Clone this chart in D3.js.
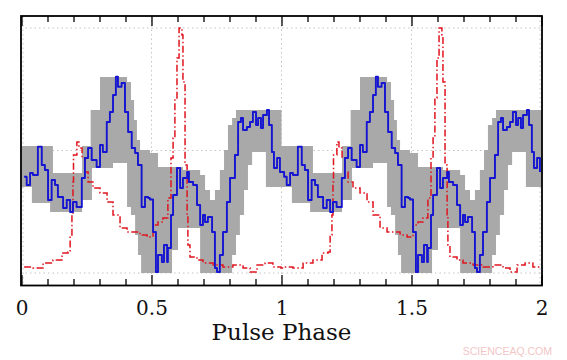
<!DOCTYPE html>
<html><head><meta charset="utf-8">
<script src="https://cdn.jsdelivr.net/npm/d3@7"></script>
<style>body{margin:0;background:#fff}</style>
</head><body><svg id="c" width="567" height="360"></svg>
<script>
// ---- data (one pulse cycle, phase 0..1; plotted twice as in the figure) ----
const xTickValues = [0, 0.5, 1, 1.5, 2];
const xTickLabels = ["0", "0.5", "1", "1.5", "2"];
const yGridValues = [0, 1, 2];

const bluePhase = [0.010,0.020,0.033,0.044,0.063,0.078,0.090,0.102,0.116,0.129,0.140,0.160,0.174,0.187,0.198,0.212,0.232,0.244,0.256,0.270,0.289,0.302,0.313,0.328,0.340,0.352,0.363,0.371,0.385,0.398,0.410,0.424,0.437,0.448,0.462,0.475,0.487,0.494,0.506,0.517,0.525,0.540,0.548,0.560,0.563,0.575,0.583,0.598,0.610,0.621,0.637,0.644,0.660,0.675,0.687,0.698,0.706,0.717,0.733,0.744,0.752,0.763,0.775,0.790,0.802,0.821,0.833,0.844,0.852,0.867,0.879,0.890,0.902,0.910,0.921,0.929,0.944,0.952,0.963,0.971,0.983,0.994];
const blueValue = [0.786,0.718,0.816,0.800,1.031,0.882,0.841,0.596,0.759,0.718,0.620,0.531,0.596,0.498,0.580,0.539,0.776,0.939,1.020,0.922,0.865,1.045,0.988,1.233,1.314,1.453,1.602,1.521,1.551,1.314,1.151,1.020,0.980,0.882,0.539,0.620,0.612,0.600,0.335,0.008,0.147,0.090,0.229,0.090,0.204,0.473,0.637,0.857,0.694,0.776,0.824,0.743,0.718,0.555,0.392,0.473,0.416,0.457,0.335,0.041,0.008,0.147,0.335,0.580,0.776,0.963,1.233,1.265,1.167,1.192,1.233,1.314,1.208,1.265,1.184,1.290,1.331,1.208,0.988,0.857,0.939,0.824];

const redPhase = [0.010,0.044,0.083,0.121,0.156,0.179,0.187,0.194,0.198,0.200,0.213,0.221,0.233,0.244,0.256,0.275,0.302,0.329,0.352,0.379,0.406,0.429,0.456,0.483,0.506,0.525,0.544,0.563,0.575,0.583,0.590,0.598,0.606,0.617,0.621,0.629,0.637,0.640,0.648,0.675,0.698,0.737,0.775,0.813,0.852,0.879,0.906,0.937,0.967,0.998];
const redValue = [0.049,0.041,0.082,0.106,0.163,0.171,0.310,0.473,0.743,0.963,1.069,1.020,0.939,0.824,0.743,0.694,0.653,0.580,0.473,0.367,0.335,0.335,0.310,0.294,0.392,0.416,0.449,0.612,0.939,1.102,1.429,1.755,2.000,1.943,1.559,0.882,0.473,0.229,0.131,0.106,0.082,0.065,0.049,0.065,0.041,0.008,0.065,0.082,0.049,0.041];

const bandPhase = [0.000,0.040,0.110,0.121,0.233,0.266,0.271,0.302,0.352,0.406,0.421,0.433,0.437,0.444,0.448,0.456,0.460,0.494,0.525,0.579,0.602,0.621,0.687,0.706,0.725,0.744,0.763,0.771,0.779,0.787,0.794,0.810,0.825,0.840,0.856,0.871,0.887,0.940];
const bandUpper = [1.037,1.037,1.037,0.816,1.037,1.331,1.331,1.600,1.600,1.559,1.412,1.249,1.249,1.086,1.086,1.004,1.004,0.980,0.865,0.865,0.865,0.841,0.800,0.678,0.596,0.678,0.841,0.841,1.004,1.004,1.208,1.265,1.331,1.331,1.331,1.331,1.331,1.331];
const bandLower = [0.702,0.571,0.498,0.498,0.596,0.596,0.857,0.857,0.898,0.539,0.473,0.473,0.310,0.310,0.147,0.147,0.000,0.000,0.000,0.188,0.367,0.367,0.000,0.000,0.000,0.000,0.000,0.000,0.000,0.000,0.000,0.147,0.310,0.473,0.678,0.882,0.988,0.702];

const cycles = [0, 1];

// ---- build two-cycle tables ----
const blue = cycles.flatMap(c => bluePhase.map((p, i) => ({x: p + c, y: blueValue[i]})));
const red = cycles.flatMap(c => redPhase.map((p, i) => ({x: p + c, y: redValue[i]})));
const band = cycles.flatMap(c => bandPhase.map((p, i) => ({x: p + c, hi: bandUpper[i], lo: bandLower[i]})));
band.push({x: 2, hi: bandUpper[bandUpper.length - 1], lo: bandLower[bandLower.length - 1]});

const svg = d3.select("#c");
const x = d3.scaleLinear().domain([0, 2]).range([21.5, 541.5]);
const y = d3.scaleLinear().domain([-0.1, 2.1]).range([285.25, 15.75]);

// grid
const grid = svg.append("g").attr("stroke", "#c4c4c4").attr("stroke-width", 1).attr("stroke-dasharray", "1.5,3");
grid.selectAll("line.v").data(xTickValues).join("line").attr("class", "v")
  .attr("x1", d => x(d) + (d === 0 ? 1.5 : d === 2 ? -1.5 : 0)).attr("x2", d => x(d) + (d === 0 ? 1.5 : d === 2 ? -1.5 : 0))
  .attr("y1", 16).attr("y2", 285);
grid.selectAll("line.h").data(yGridValues).join("line").attr("class", "h")
  .attr("x1", 21).attr("x2", 542).attr("y1", d => y(d)).attr("y2", d => y(d));

// gray band
svg.append("path").datum(band)
  .attr("fill", "#a9a9a9")
  .attr("d", d3.area().curve(d3.curveStepAfter).x(d => x(d.x)).y0(d => y(d.lo)).y1(d => y(d.hi)));

// red profile
svg.append("path").datum(red)
  .attr("fill", "none").attr("stroke", "#e0141e").attr("stroke-width", 1.5)
  .attr("stroke-dasharray", "7,2.5,1.5,2.5")
  .attr("d", d3.line().curve(d3.curveStepAfter).x(d => x(d.x)).y(d => y(d.y)));

// blue curve
svg.append("path").datum(blue)
  .attr("fill", "none").attr("stroke", "#1414d2").attr("stroke-width", 1.9)
  .attr("stroke-linejoin", "round")
  .attr("d", d3.line().curve(d3.curveStepAfter).x(d => x(d.x)).y(d => y(d.y)));

// frame
svg.append("rect").attr("x", 21).attr("y", 16).attr("width", 521).attr("height", 269.5)
  .attr("fill", "none").attr("stroke", "#000").attr("stroke-width", 1.8);

// axes ticks (inward, top and bottom)
const minor = d3.range(0, 21).map(i => i / 10);
const bottomAxis = d3.axisBottom(x).tickValues(minor).tickSize(-6).tickFormat("");
const topAxis = d3.axisTop(x).tickValues(minor).tickSize(-6).tickFormat("");
const gb = svg.append("g").attr("transform", "translate(0,285)").call(bottomAxis);
const gt = svg.append("g").attr("transform", "translate(0,16)").call(topAxis);
[gb, gt].forEach(g => {
  g.select(".domain").remove();
  g.selectAll(".tick line").attr("stroke", "#000").attr("stroke-width", 1.3);
});
gb.selectAll(".tick line").filter(d => xTickValues.some(v => Math.abs(v - d) < 1e-9)).attr("y2", -10);
gt.selectAll(".tick line").filter(d => xTickValues.some(v => Math.abs(v - d) < 1e-9)).attr("y2", 10);

// tick labels
const labAxis = d3.axisBottom(x).tickValues(xTickValues).tickSize(0).tickPadding(0)
  .tickFormat((d, i) => xTickLabels[i]);
const gl = svg.append("g").attr("transform", "translate(0,301)").call(labAxis);
gl.select(".domain").remove();
gl.selectAll("text").attr("font-family", "DejaVu Serif").attr("font-size", 20).attr("fill", "#111").attr("dy", "0.71em");

// axis title
svg.append("text").attr("x", 281.5).attr("y", 340).attr("text-anchor", "middle")
  .attr("font-family", "DejaVu Serif").attr("font-size", 23).attr("fill", "#111").text("Pulse Phase");

// watermark
svg.append("text").attr("x", 552).attr("y", 355).attr("text-anchor", "end")
  .attr("font-family", "Liberation Sans").attr("font-size", 10.5).attr("fill", "#f2c6c6").text("SCIENCEAQ.COM");
</script>
</body></html>
